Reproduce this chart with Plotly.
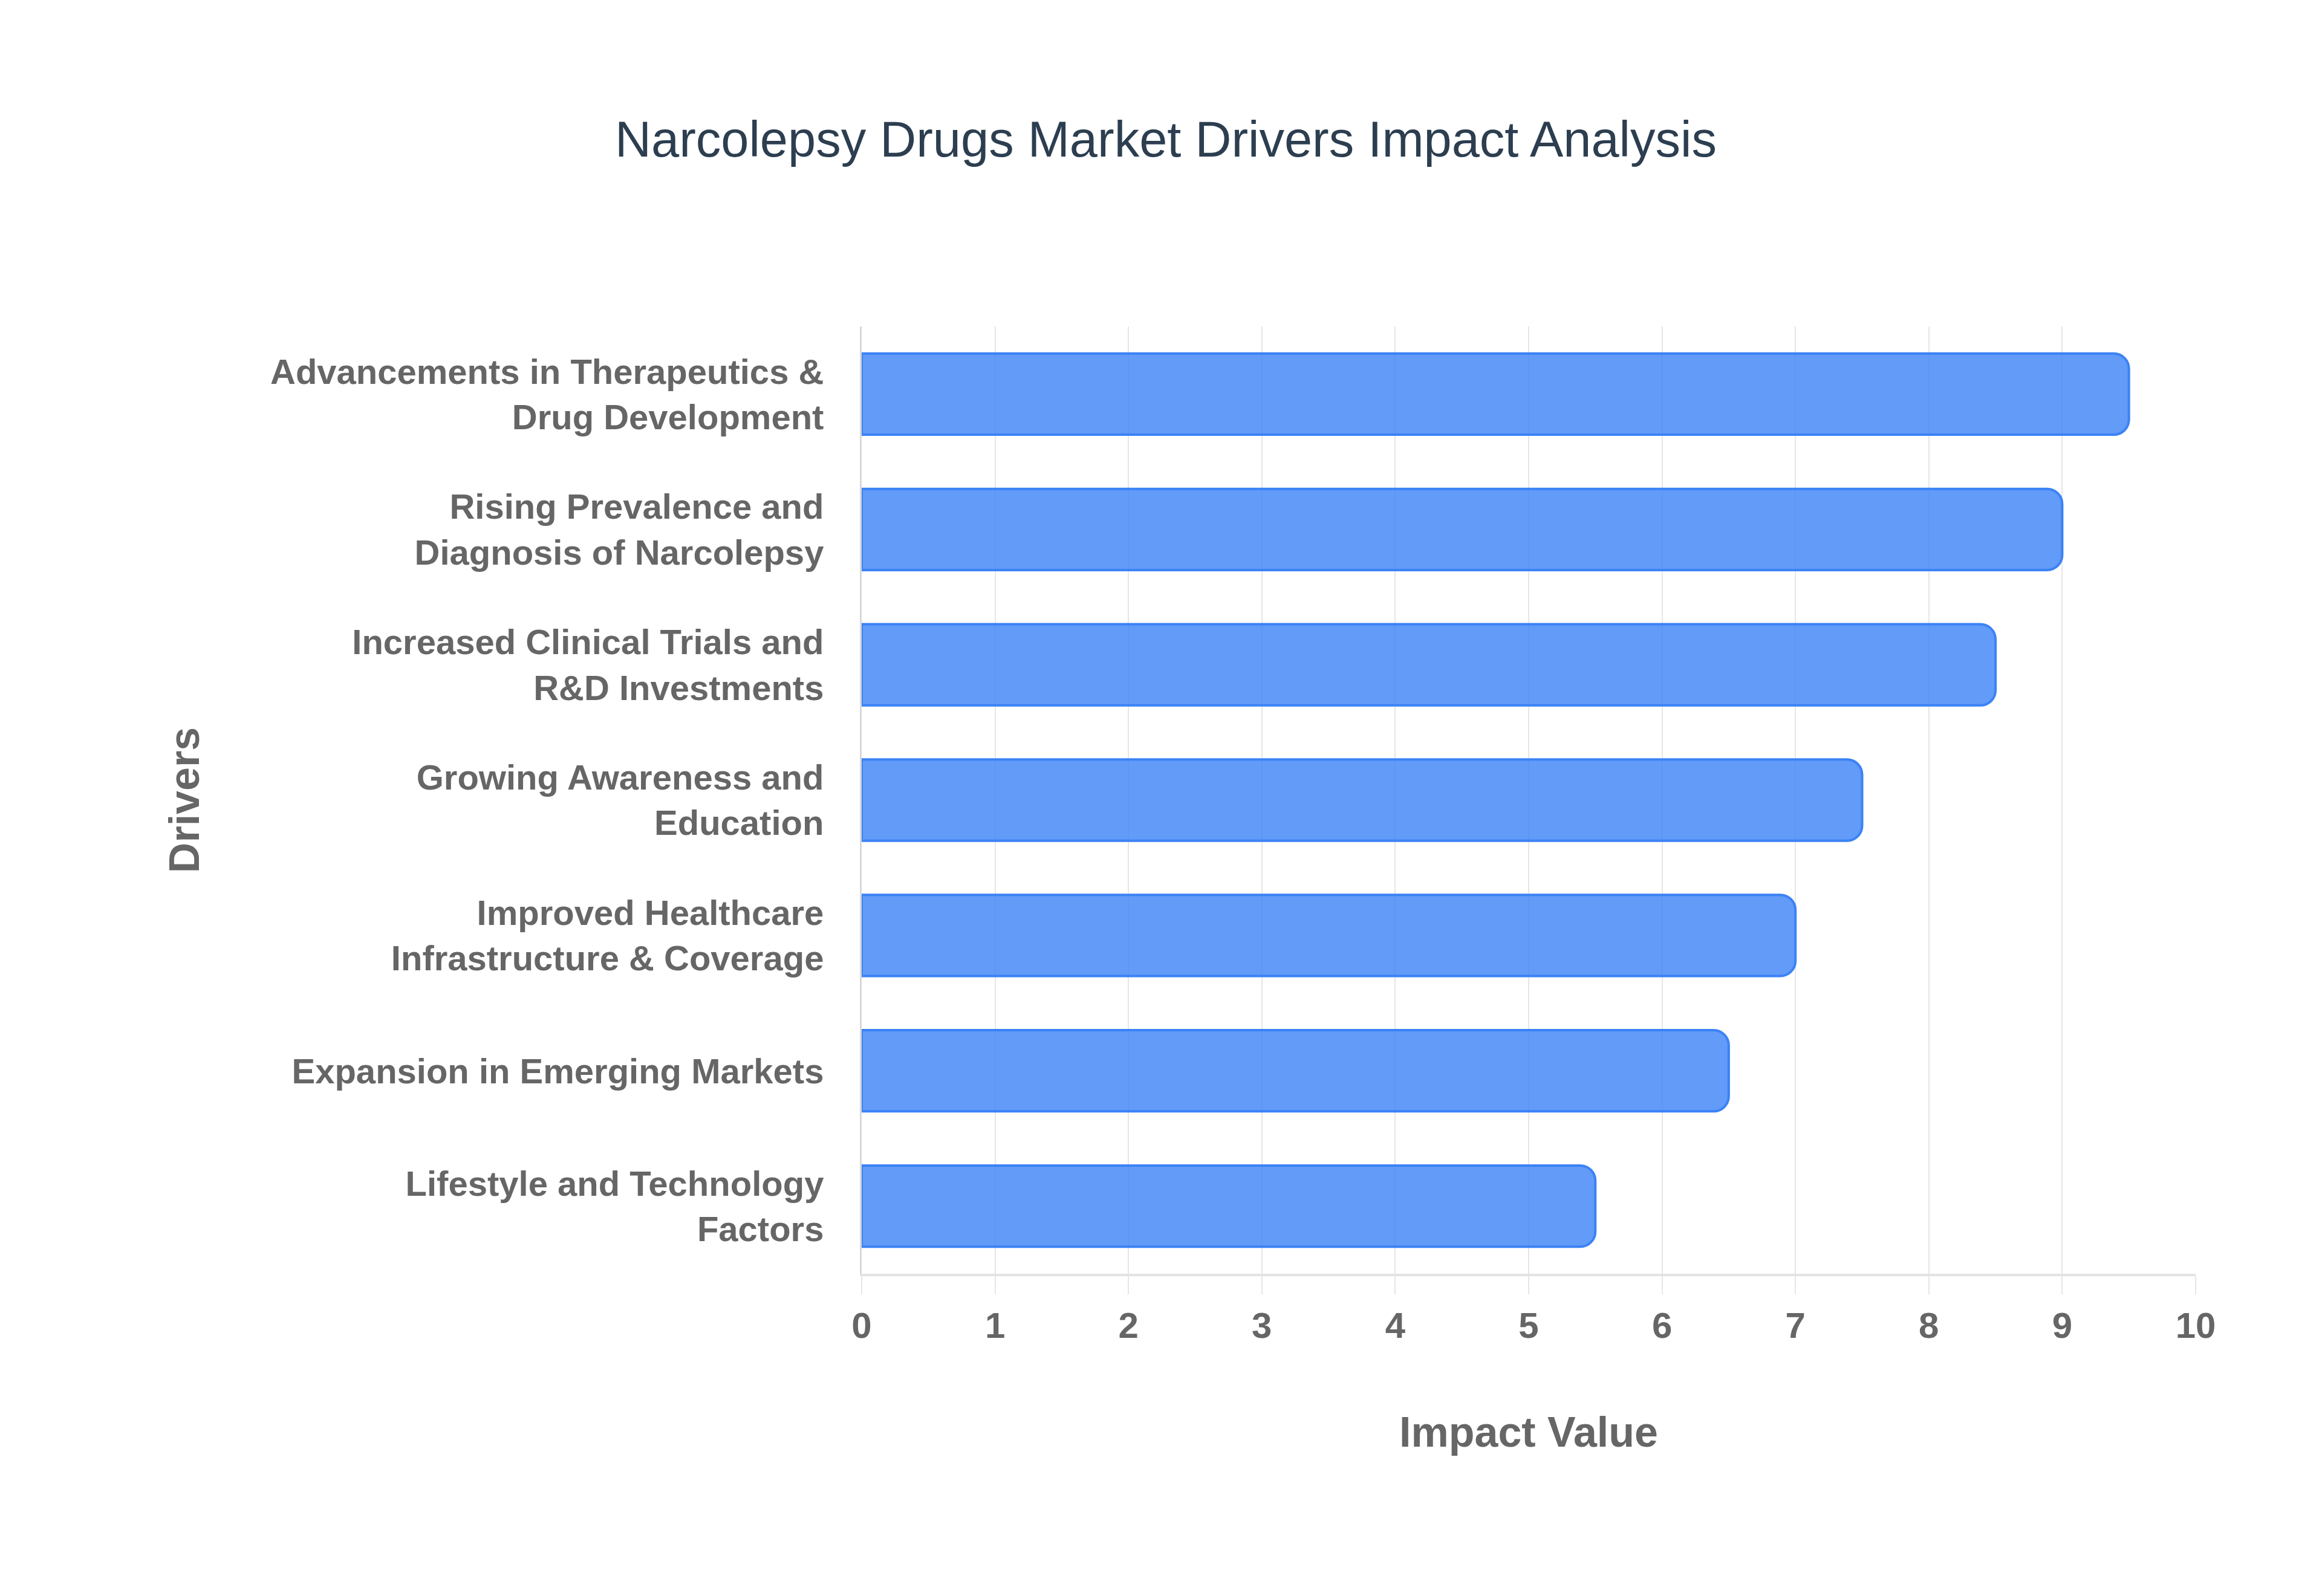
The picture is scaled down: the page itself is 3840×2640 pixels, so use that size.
import plotly.graph_objects as go

drivers = [
    "Advancements in Therapeutics &<br>Drug Development",
    "Rising Prevalence and<br>Diagnosis of Narcolepsy",
    "Increased Clinical Trials and<br>R&D Investments",
    "Growing Awareness and<br>Education",
    "Improved Healthcare<br>Infrastructure & Coverage",
    "Expansion in Emerging Markets",
    "Lifestyle and Technology<br>Factors",
]
impact = [9.5, 9.0, 8.5, 7.5, 7.0, 6.5, 5.5]
x_ticks = list(range(0, 11))

FONT = "Arial, Liberation Sans, sans-serif"
GRAY = "#666666"

fig = go.Figure(
    go.Bar(
        x=impact,
        y=drivers,
        orientation="h",
        marker=dict(
            color="rgba(59,130,246,0.8)",
            line=dict(color="rgb(59,130,246)", width=4),
        ),
        hoverinfo="x+y",
    )
)

fig.update_layout(
    width=3840,
    height=2640,
    paper_bgcolor="white",
    plot_bgcolor="white",
    margin=dict(l=1417, r=217, t=532, b=541),
    bargap=0.4,
    barcornerradius=25,
    showlegend=False,
    title=dict(
        text="Narcolepsy Drugs Market Drivers Impact Analysis",
        x=0.5,
        xanchor="center",
        xref="container",
        y=1 - 222 / 2640,
        yanchor="middle",
        yref="container",
        font=dict(family=FONT, size=83, color="#2c3e50"),
    ),
    xaxis=dict(
        range=[0, 10],
        tickvals=x_ticks,
        ticktext=[str(v) for v in x_ticks],
        showgrid=True,
        gridcolor="#e6e6e6",
        gridwidth=2,
        zeroline=False,
        showline=True,
        linecolor="#e3e3e3",
        linewidth=4,
        ticks="outside",
        ticklen=30,
        tickwidth=2,
        tickcolor="#e6e6e6",
        tickfont=dict(family=FONT, size=60, color=GRAY, weight="bold"),
        title=dict(
            text="Impact Value",
            font=dict(family=FONT, size=70, color=GRAY, weight="bold"),
            standoff=120,
        ),
    ),
    yaxis=dict(
        categoryorder="array",
        categoryarray=drivers[::-1],
        showgrid=False,
        zeroline=False,
        showline=True,
        linecolor="#d9d9d9",
        linewidth=3,
        ticks="outside",
        ticklen=48,
        tickcolor="rgba(0,0,0,0)",
        tickfont=dict(family=FONT, size=58, color=GRAY, weight="bold"),
        title=dict(
            text="Drivers",
            font=dict(family=FONT, size=70, color=GRAY, weight="bold"),
            standoff=95,
        ),
    ),
)

fig.write_html("out.html")
